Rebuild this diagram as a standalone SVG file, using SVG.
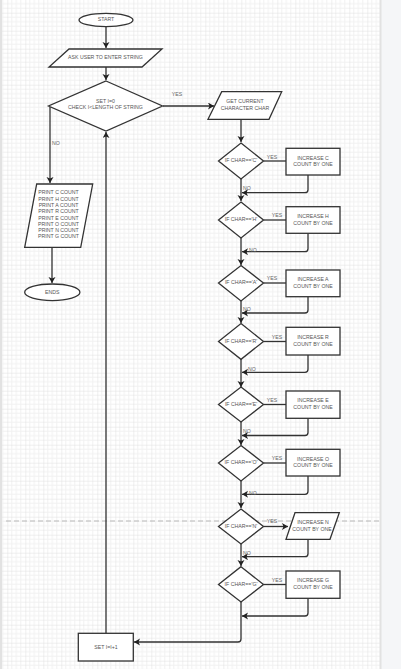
<svg xmlns="http://www.w3.org/2000/svg" width="401" height="669" viewBox="0 0 401 669">
<defs>
<pattern id="grid" patternUnits="userSpaceOnUse" x="7.3" y="12.7" width="18" height="18">
<path d="M4.5,0V18M9,0V18M13.5,0V18M0,4.5H18M0,9H18M0,13.5H18" stroke="#f1f1f1" stroke-width="1" fill="none"/>
<path d="M0,0V18M0,0H18" stroke="#e0e0e0" stroke-width="1" fill="none"/>
</pattern>
<marker id="arr" markerUnits="userSpaceOnUse" markerWidth="8" markerHeight="8" refX="6" refY="3.5" orient="auto">
<path d="M0,0L6,3.5L0,7L1.5,3.5Z" fill="#222"/>
</marker>
<style>
.s{fill:#fff;stroke:#333;stroke-width:1.3}
.c{fill:none;stroke:#333;stroke-width:1.3}
.t{font-family:"Liberation Sans",Arial,sans-serif;font-size:5.2px;fill:#555;text-anchor:middle;dominant-baseline:middle}
.l{font-family:"Liberation Sans",Arial,sans-serif;font-size:5.2px;fill:#666;text-anchor:middle}
</style>
</defs>
<rect x="0" y="0" width="401" height="669" fill="#f5f6f8"/>
<rect x="0" y="0" width="380" height="669" fill="#fff"/>
<rect x="0" y="0" width="380" height="669" fill="url(#grid)"/>
<line x1="1" y1="0" x2="1" y2="669" stroke="#e2e2e2" stroke-width="2"/>
<line x1="380.5" y1="0" x2="380.5" y2="669" stroke="#e2e2e2" stroke-width="2"/>
<line x1="6" y1="521" x2="380" y2="521" stroke="#aaa" stroke-width="0.8" stroke-dasharray="5,3"/>

<g id="connectors">
<path class="c" d="M106,27V48" marker-end="url(#arr)"/>
<path class="c" d="M106,67V80" marker-end="url(#arr)"/>
<path class="c" d="M163,106H214" marker-end="url(#arr)"/>
<path class="c" d="M50,107V183" marker-end="url(#arr)"/>
<path class="c" d="M52,247V283" marker-end="url(#arr)"/>
<path class="c" d="M241,119V142" marker-end="url(#arr)"/>
<path class="c" d="M241,179V201" marker-end="url(#arr)"/>
<path class="c" d="M241,238V265" marker-end="url(#arr)"/>
<path class="c" d="M241,301V323" marker-end="url(#arr)"/>
<path class="c" d="M241,359V387" marker-end="url(#arr)"/>
<path class="c" d="M241,422V445" marker-end="url(#arr)"/>
<path class="c" d="M241,481V508" marker-end="url(#arr)"/>
<path class="c" d="M241,544V566" marker-end="url(#arr)"/>
<path class="c" d="M263.5,161H286"/>
<path class="c" d="M263.5,220H286"/>
<path class="c" d="M263.5,283H286"/>
<path class="c" d="M263.5,341.5H286"/>
<path class="c" d="M263.5,404.5H286"/>
<path class="c" d="M263.5,463H286"/>
<path class="c" d="M263.5,526.5H288" marker-end="url(#arr)"/>
<path class="c" d="M263.5,584.5H286"/>
<path class="c" d="M308,175V189.7Q308,192.7 305,192.7H242" marker-end="url(#arr)"/>
<path class="c" d="M308,233.3V248.7Q308,251.7 305,251.7H242" marker-end="url(#arr)"/>
<path class="c" d="M308,296.7V310Q308,313 305,313H242" marker-end="url(#arr)"/>
<path class="c" d="M308,355V369.3Q308,372.3 305,372.3H242" marker-end="url(#arr)"/>
<path class="c" d="M308,418.3V432.5Q308,435.5 305,435.5H242" marker-end="url(#arr)"/>
<path class="c" d="M308,476V491.3Q308,494.3 305,494.3H242" marker-end="url(#arr)"/>
<path class="c" d="M308,539.3V553.7Q308,556.7 305,556.7H242" marker-end="url(#arr)"/>
<path class="c" d="M308,598.3V613Q308,616 305,616H242" marker-end="url(#arr)"/>
<path class="c" d="M241,602V639Q241,642 238,642H134" marker-end="url(#arr)"/>
<path class="c" d="M106,633V132" marker-end="url(#arr)"/>
<text class="l" x="177" y="96">YES</text>
<text class="l" x="56" y="145">NO</text>
<text class="l" x="272" y="159">YES</text>
<text class="l" x="247" y="190">NO</text>
<text class="l" x="277" y="217">YES</text>
<text class="l" x="253" y="252">NO</text>
<text class="l" x="272" y="280">YES</text>
<text class="l" x="247" y="311">NO</text>
<text class="l" x="277" y="339">YES</text>
<text class="l" x="252" y="371">NO</text>
<text class="l" x="272" y="402">YES</text>
<text class="l" x="247" y="433">NO</text>
<text class="l" x="277" y="460">YES</text>
<text class="l" x="253" y="494.5">NO</text>
<text class="l" x="272" y="522.5">YES</text>
<text class="l" x="247" y="555">NO</text>
<text class="l" x="277" y="582">YES</text>
</g>

<g id="start"><ellipse class="s" cx="106" cy="20" rx="27" ry="6.7"/><text class="t" x="106" y="20">START</text></g>
<g id="ask"><polygon class="s" points="69,49 162,49 142,67 49,67"/><text class="t" x="105.5" y="58">ASK USER TO ENTER STRING</text></g>
<g id="check"><polygon class="s" points="106,81 162.5,106 106,131 48.5,106"/><text class="t" x="105.5" y="101.7">SET I=0</text><text class="t" x="105.5" y="107.7">CHECK I&lt;LENGTH OF STRING</text></g>
<g id="get"><polygon class="s" points="221.7,91.7 281.7,91.7 269,119.3 208,119.3"/><text class="t" x="245" y="102">GET CURRENT</text><text class="t" x="245" y="108.2">CHARACTER CHAR</text></g>
<g id="print"><polygon class="s" points="36.7,184 92.7,184 80.7,247.3 24.7,247.3"/>
<text class="t" x="58.5" y="192.7">PRINT C COUNT</text><text class="t" x="58.5" y="199.6">PRINT H COUNT</text><text class="t" x="58.5" y="205.9">PRINT A COUNT</text><text class="t" x="58.5" y="211.8">PRINT R COUNT</text><text class="t" x="58.5" y="218.9">PRINT E COUNT</text><text class="t" x="58.5" y="224.9">PRINT O COUNT</text><text class="t" x="58.5" y="230.8">PRINT N COUNT</text><text class="t" x="58.5" y="237">PRINT G COUNT</text></g>
<g id="ends"><ellipse class="s" cx="52.3" cy="292.3" rx="27.6" ry="8.3"/><text class="t" x="52.3" y="292.5">ENDS</text></g>

<g id="ifC"><polygon class="s" points="241,143 263.5,161 241,179 218.5,161"/><text class="t" x="241" y="161">IF CHAR=='C'</text></g>
<g id="incC"><rect class="s" x="286" y="148.3" width="54" height="26.7"/><text class="t" x="313" y="158.3">INCREASE C</text><text class="t" x="313" y="165">COUNT BY ONE</text></g>
<g id="ifH"><polygon class="s" points="241,202 263.5,220 241,238 218.5,220"/><text class="t" x="241" y="220">IF CHAR=='H'</text></g>
<g id="incH"><rect class="s" x="286" y="206.7" width="54" height="26.6"/><text class="t" x="313" y="216.7">INCREASE H</text><text class="t" x="313" y="223.3">COUNT BY ONE</text></g>
<g id="ifA"><polygon class="s" points="241,265.5 263.5,283 241,301 218.5,283"/><text class="t" x="241" y="283">IF CHAR=='A'</text></g>
<g id="incA"><rect class="s" x="286" y="270" width="54" height="26.7"/><text class="t" x="313" y="280">INCREASE A</text><text class="t" x="313" y="286.7">COUNT BY ONE</text></g>
<g id="ifR"><polygon class="s" points="241,323.5 263.5,341.5 241,359.3 218.5,341.5"/><text class="t" x="241" y="341.5">IF CHAR=='R'</text></g>
<g id="incR"><rect class="s" x="286" y="327.3" width="54" height="27.7"/><text class="t" x="313" y="337.8">INCREASE R</text><text class="t" x="313" y="344.8">COUNT BY ONE</text></g>
<g id="ifE"><polygon class="s" points="241,387 263.5,404.5 241,422 218.5,404.5"/><text class="t" x="241" y="404.5">IF CHAR=='E'</text></g>
<g id="incE"><rect class="s" x="286" y="391" width="54" height="27.3"/><text class="t" x="313" y="401">INCREASE E</text><text class="t" x="313" y="408">COUNT BY ONE</text></g>
<g id="ifO"><polygon class="s" points="241,445.5 263.5,463 241,481 218.5,463"/><text class="t" x="241" y="463">IF CHAR=='O'</text></g>
<g id="incO"><rect class="s" x="286" y="449.3" width="54" height="26.7"/><text class="t" x="313" y="459.5">INCREASE O</text><text class="t" x="313" y="466">COUNT BY ONE</text></g>
<g id="ifN"><polygon class="s" points="241,509 263.5,526.5 241,544 218.5,526.5"/><text class="t" x="241" y="526.5">IF CHAR=='N'</text></g>
<g id="incN"><polygon class="s" points="295,512.7 339.3,512.7 330,539.3 286,539.3"/><text class="t" x="313" y="523">INCREASE N</text><text class="t" x="312" y="529.3">COUNT BY ONE</text></g>
<g id="ifG"><polygon class="s" points="241,566.7 263.5,584.5 241,602 218.5,584.5"/><text class="t" x="241" y="584.5">IF CHAR=='G'</text></g>
<g id="incG"><rect class="s" x="286" y="571" width="54" height="27.3"/><text class="t" x="313" y="581">INCREASE G</text><text class="t" x="313" y="588">COUNT BY ONE</text></g>
<g id="inc"><rect class="s" x="78.3" y="633.3" width="55" height="27.7"/><text class="t" x="106" y="647.2">SET I=I+1</text></g>
</svg>
